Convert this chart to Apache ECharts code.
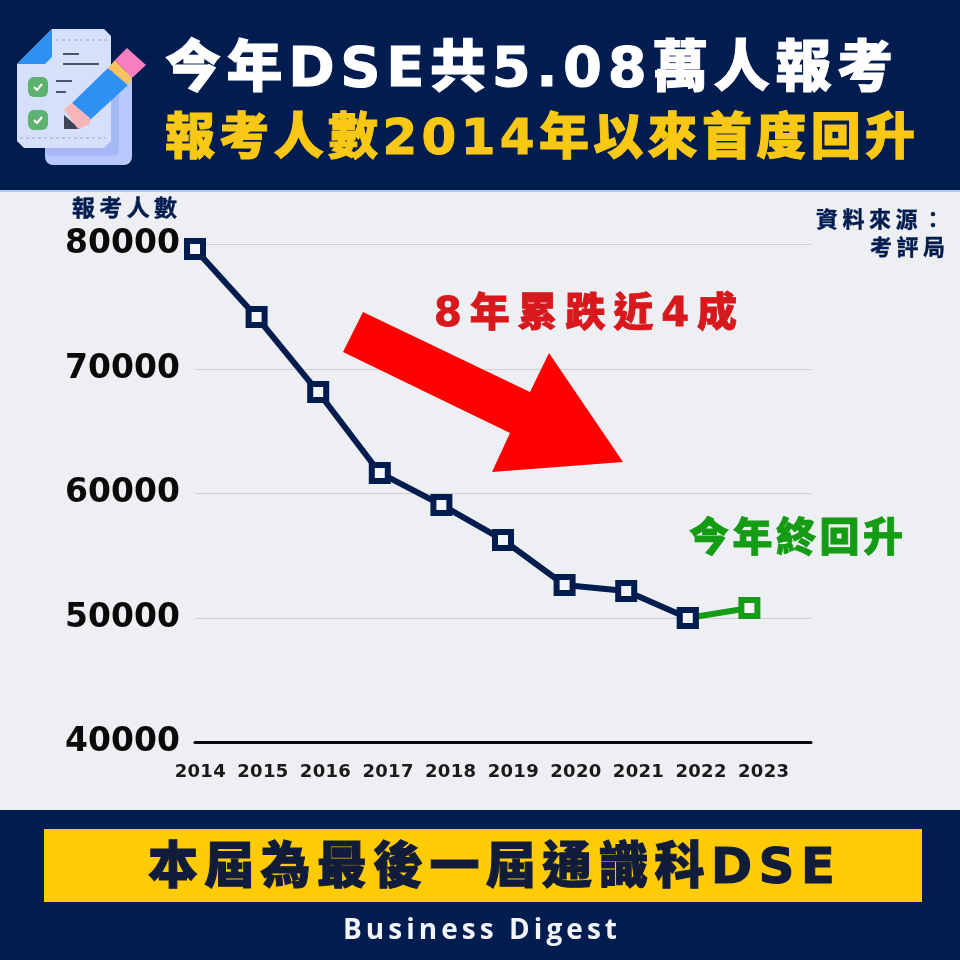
<!DOCTYPE html>
<html><head><meta charset="utf-8">
<style>html,body{margin:0;padding:0;background:#eeeff3}#c{width:960px;height:960px}</style>
<script src="https://cdn.jsdelivr.net/npm/echarts@6/dist/echarts.min.js"></script>
</head><body><div id="c"></div>
<script>
var years = ['2014','2015','2016','2017','2018','2019','2020','2021','2022','2023'];
var applicantsFall = [79640,74180,68150,61650,59080,56270,52650,52170,50000,null];
var applicantsRise = [null,null,null,null,null,null,null,null,50000,50800];
var yTicks = {min:40000,max:80000,interval:10000};
var titleLine1 = '今年DSE共5.08萬人報考';
var titleLine2 = '報考人數2014年以來首度回升';
var yName = '報考人數';
var sourceLines = ['資料來源：','考評局'];
var noteFall = '8年累跌近4成';
var noteRise = '今年終回升';
var footer = '本屆為最後一屆通識科DSE';
var brand = 'Business Digest';

var NAVY='#011c4f', YEL='#fecb05', CJK='"DejaVu Sans","Noto Sans CJK TC"';
// per-string letter spacing, applied when the text is painted
var tracking={};
['fillText','strokeText'].forEach(function(m){
  var orig=CanvasRenderingContext2D.prototype[m];
  CanvasRenderingContext2D.prototype[m]=function(t){
    this.letterSpacing=(tracking[t]||0)+'px';
    return orig.apply(this,arguments);
  };
});
var mctx=document.createElement('canvas').getContext('2d');
function natural(text,font){mctx.font=font;return mctx.measureText(text).width;}
function fit(text,left,width,cy,size,color,weight,fam,heavy){
  var font=(weight||900)+' '+size+'px '+(fam||CJK);
  tracking[text]=(width-natural(text,font))/(text.length-1);
  return {type:'text',x:left,y:cy,z:50,
    style:{text:text,fill:color,stroke:heavy?color:null,lineWidth:heavy||0,font:font,textAlign:'left',textVerticalAlign:'middle'}};
}
var yLabelFont='bold 33px "DejaVu Sans"', xLabelFont='bold 18px "DejaVu Sans"';
for(var v=yTicks.min;v<=yTicks.max;v+=yTicks.interval){tracking[String(v)]=(115-natural(String(v),yLabelFont))/4;}
years.forEach(function(y){tracking[y]=(51-natural(y,xLabelFont))/3;});

function rect(x,y,w,h,c,r,z){return {type:'rect',z:z||5,shape:{x:x,y:y,width:w,height:h,r:r||0},style:{fill:c}};}
function poly(p,c,z){return {type:'polygon',z:z||10,shape:{points:p},style:{fill:c}};}
function ln(x1,y1,x2,y2,c,wd,z,dash){return {type:'line',z:z||11,shape:{x1:x1,y1:y1,x2:x2,y2:y2},style:{stroke:c,lineWidth:wd||2,lineDash:dash||null}};}

var graphics=[
  rect(0,0,960,191,NAVY,0,-1),
  rect(0,190,960,2,'#b9c8ee',0,-1),
  rect(0,810,960,150,NAVY,0,-1),
  rect(44,829,878,73,YEL,0,2),
  // icon
  rect(45,72,87,93,'#b6c8fc',8,6),
  rect(45,72,74,84,'#a6b9f6',6,7),
  poly([[52,29],[104,29],[111,36],[111,141],[104,148],[24,148],[17,141],[17,64]],'#d7e0fb',8),
  poly([[52,29],[17,64],[45,64],[52,57]],'#2d90f2',9),
  rect(28,77,20,20,'#5cb26e',6,9),
  rect(28,110,20,20,'#5cb26e',6,9),
  {type:'polyline',z:10,shape:{points:[[34,87],[37,90],[42,84]]},style:{stroke:'#fff',lineWidth:2,fill:'none'}},
  {type:'polyline',z:10,shape:{points:[[34,120],[37,123],[42,117]]},style:{stroke:'#fff',lineWidth:2,fill:'none'}},
  ln(63,54,79,54,'#4a5568',2,9), ln(63,64,99,64,'#4a5568',2,9),
  ln(56,81,72,81,'#4a5568',2,9), ln(56,92,66,92,'#4a5568',2,9),
  ln(56,40,108,40,'#9aa5c8',1,9,[3,3]), ln(20,138,106,138,'#9aa5c8',1,9,[3,3]),
  poly([[64,115],[80,129],[64,129]],'#3c4458',10),
  poly([[72,103],[108,68],[128,85],[90,120]],'#2d90f2',11),
  poly([[108,68],[115,60],[132,78],[128,85]],'#f9c25e',11),
  poly([[115,60],[127,48],[146,65],[132,78]],'#f77fbf',11),
  poly([[64,109],[72,103],[90,118],[90,124],[78,129]],'#f6b5b8',11),
  // header text
  fit(titleLine1,165,728,71,56,'#ffffff',900,null,1),
  fit(titleLine2,165,750,141,50,'#f9c815',900,null,1),
  fit(yName,72,105,210,23,NAVY,700,null,0.4),
  fit(sourceLines[0],816,128,221,22,NAVY,700,null,0.4),
  fit(sourceLines[1],870,75,249,22,NAVY,700,null,0.4),
  // annotations
  poly([[363,312],[343,352],[510,433],[492,472],[623,462],[549,353],[530,392]],'#fe0000',20),
  fit(noteFall,434,303,316,40,'#d7181d',900,null,0.8),
  fit(noteRise,689,214,541,40,'#149c15',900,null,0.8),
  // footer
  fit(footer,148,687,870,50,'#101c3a',900,null,1),
  fit(brand,343,274,931,28,'#f2f4fa',700,'"Open Sans"')
];

var chart=echarts.init(document.getElementById('c'),null,{renderer:'canvas'});
chart.setOption({
  animation:false,
  backgroundColor:'#eeeff3',
  graphic:{elements:graphics},
  grid:[
    {left:195,top:244.5,width:616,height:498},
    {left:169,top:244.5,width:626,height:498}
  ],
  xAxis:[
    {type:'category',gridIndex:0,boundaryGap:false,data:years.concat(['']),
     axisTick:{show:false},axisLabel:{show:false},
     axisLine:{show:true,lineStyle:{color:'#0a0a0a',width:3}},splitLine:{show:false}},
    {type:'category',gridIndex:1,boundaryGap:true,data:years,
     axisTick:{show:false},axisLine:{show:false},splitLine:{show:false},
     axisLabel:{show:true,interval:0,margin:21,color:'#1a1a1a',fontFamily:'DejaVu Sans',fontWeight:'bold',fontSize:18}}
  ],
  yAxis:[
    {type:'value',gridIndex:0,min:yTicks.min,max:yTicks.max,interval:yTicks.interval,
     axisLine:{show:false},axisTick:{show:false},
     axisLabel:{margin:15,padding:[0,0,1,0],formatter:function(v){return String(v);},color:'#0a0a0a',fontFamily:'DejaVu Sans',fontWeight:'bold',fontSize:33},
     splitLine:{show:true,lineStyle:{color:'#cfd0d4',width:1}}},
    {type:'value',gridIndex:1,min:yTicks.min,max:yTicks.max,interval:yTicks.interval,show:false,splitLine:{show:false}}
  ],
  series:[
    {name:'rise',type:'line',xAxisIndex:0,yAxisIndex:0,data:applicantsRise,clip:false,z:3,
     lineStyle:{color:'#149c15',width:6},symbol:'rect',symbolSize:16,
     itemStyle:{color:'#f4f5fb',borderColor:'#149c15',borderWidth:6}},
    {name:'fall',type:'line',xAxisIndex:0,yAxisIndex:0,data:applicantsFall,clip:false,z:4,
     lineStyle:{color:NAVY,width:6},symbol:'rect',symbolSize:16,
     itemStyle:{color:'#f4f5fb',borderColor:NAVY,borderWidth:6}}
  ]
});
</script></body></html>
